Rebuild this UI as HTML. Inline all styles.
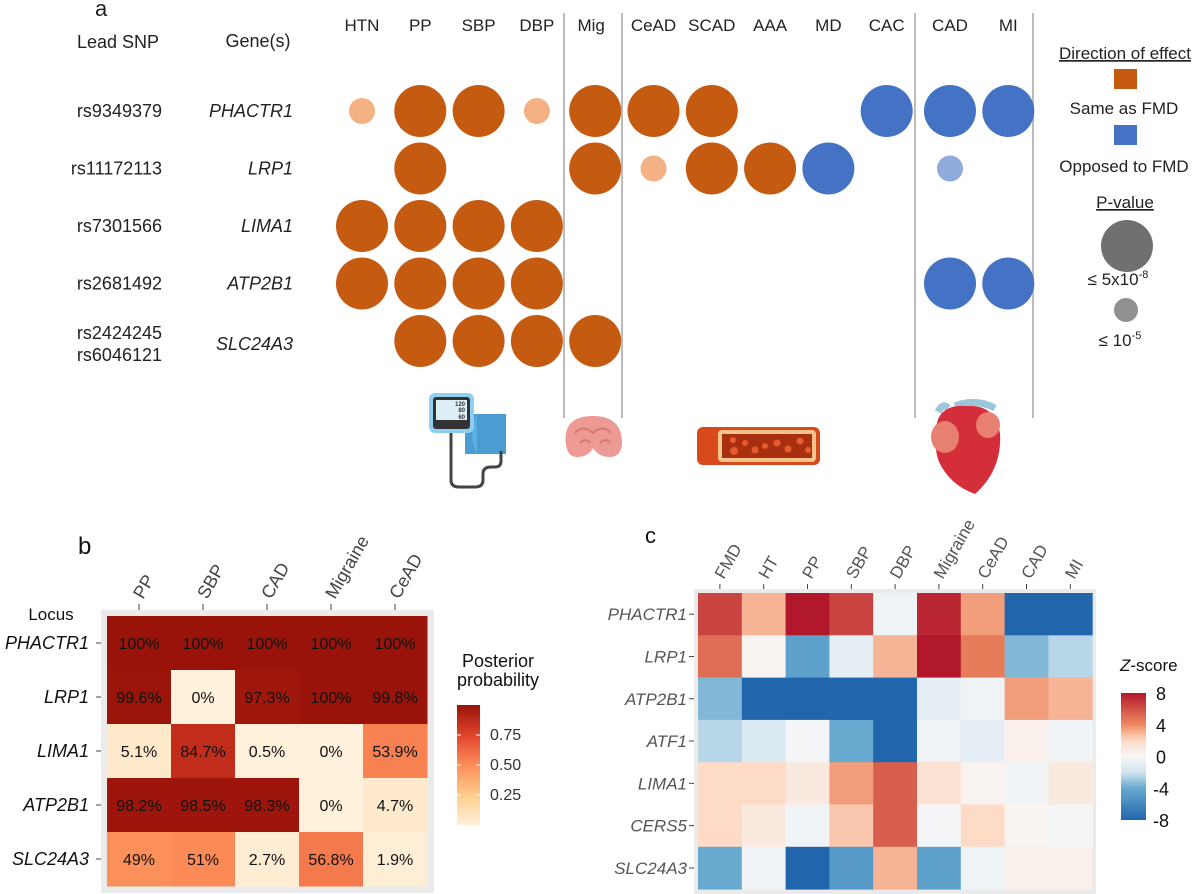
<!DOCTYPE html>
<html><head><meta charset="utf-8"><style>
html,body{margin:0;padding:0;background:#fff}
svg{display:block;font-family:"Liberation Sans",Arial,sans-serif}
</style></head><body>
<svg id="s" width="1200" height="894" viewBox="0 0 1200 894" xmlns="http://www.w3.org/2000/svg">
<g id="pa">
<text x="95" y="16" font-size="22" fill="#222">a</text>
<text x="118" y="48" font-size="18" text-anchor="middle" fill="#222">Lead SNP</text>
<text x="258" y="47" font-size="18" text-anchor="middle" fill="#222">Gene(s)</text>
<g stroke="#bbb" stroke-width="2">
<line x1="564" y1="13" x2="564" y2="418"/><line x1="622" y1="13" x2="622" y2="418"/>
<line x1="915" y1="13" x2="915" y2="418"/><line x1="1033" y1="13" x2="1033" y2="418"/>
</g>
<g id="legend-a" fill="#222" font-size="17" text-anchor="middle">
<text x="1125" y="59" text-decoration="underline">Direction of effect</text>
<rect x="1114" y="69" width="23" height="20" fill="#C55A11"/>
<text x="1124" y="114">Same as FMD</text>
<rect x="1114" y="125" width="23" height="20" fill="#4472C4"/>
<text x="1124" y="172">Opposed to FMD</text>
<text x="1125" y="208" text-decoration="underline">P-value</text>
<circle cx="1127" cy="246" r="26" fill="#707070"/>
<text x="1118" y="285">≤ 5x10<tspan font-size="11" dy="-7">-8</tspan></text>
<circle cx="1126" cy="310" r="12" fill="#909090"/>
<text x="1120" y="346">≤ 10<tspan font-size="11" dy="-7">-5</tspan></text>
</g>
<g>
<rect x="465" y="414" width="41" height="40" fill="#4A9CD1"/><path d="M477 414 q-10 20 0 40" fill="#5BB0E3"/>
<path d="M451 430 v50 q0 7 8 7 h16 q8 0 8-7 v-6 q0-7 8-7 h4 q6 0 6-6 v-10" fill="none" stroke="#444" stroke-width="3"/>
<rect x="429" y="393" width="45" height="40" rx="6" fill="#8ECFEF"/><rect x="433" y="397" width="37" height="32" rx="3" fill="#333"/>
<rect x="436" y="400" width="31" height="20" fill="#DDEEF5"/>
<text x="465" y="406" font-size="6" text-anchor="end" font-weight="bold" fill="#333">120</text>
<text x="465" y="412" font-size="6" text-anchor="end" font-weight="bold" fill="#333">80</text>
<text x="465" y="419" font-size="6" text-anchor="end" font-weight="bold" fill="#333">60</text>
</g>
<g>
<path d="M566 445 q-4-29 27-29 q30 0 29 29 q-2 13-14 12 q-10-1-15-9 q-4 8-14 9 q-11 1-13-12z" fill="#EE9A94"/>
<path d="M575 433 q8-9 18 0 q10-9 18 0 M580 443 q6-6 10 0 M600 443 q6-6 10 0" fill="none" stroke="#D97570" stroke-width="2"/>
</g>
<g>
<rect x="697" y="427" width="123" height="38" rx="6" fill="#D84A1B"/>
<rect x="718" y="430" width="98" height="32" rx="4" fill="#F6C48B"/>
<rect x="722" y="434" width="90" height="24" fill="#A8300E"/>
<g fill="#E85A30"><circle cx="733" cy="440" r="3"/><circle cx="745" cy="443" r="3"/><circle cx="734" cy="451" r="4"/><circle cx="755" cy="450" r="3.5"/><circle cx="765" cy="446" r="3"/><circle cx="777" cy="443" r="3.5"/><circle cx="788" cy="449" r="3.5"/><circle cx="800" cy="441" r="3.5"/><circle cx="808" cy="450" r="3"/></g>
</g>
<g>
<path d="M938 412 q5-10 10-4 M955 406 q20-8 40 2" fill="none" stroke="#9CC7DB" stroke-width="7"/>
<path d="M936 432 q0-28 30-26 q30-2 34 28 q2 36-25 60 q-25-9-36-32 q-5-14-3-30z" fill="#D42E3A"/>
<ellipse cx="945" cy="437" rx="14" ry="16" fill="#E78070"/><ellipse cx="988" cy="425" rx="12" ry="13" fill="#E78070"/>
</g>
</g>

<g>
<text x="78" y="554" font-size="24" fill="#111">b</text>
<rect x="101" y="610" width="333" height="283" fill="#ebebeb"/>
<text x="51" y="620" font-size="17" text-anchor="middle" fill="#111">Locus</text>
<g id="hb"></g>
<text x="498" y="667" font-size="18" text-anchor="middle" fill="#111">Posterior</text>
<text x="498" y="686" font-size="18" text-anchor="middle" fill="#111">probability</text>
<defs><linearGradient id="gb" x1="0" y1="1" x2="0" y2="0">
<stop offset="0" stop-color="#FFF1DC"/><stop offset="0.25" stop-color="#FDCC8A"/><stop offset="0.5" stop-color="#FC8D59"/><stop offset="0.75" stop-color="#E0432B"/><stop offset="1" stop-color="#99130A"/></linearGradient>
<linearGradient id="gc" x1="0" y1="1" x2="0" y2="0">
<stop offset="0" stop-color="#2166AC"/><stop offset="0.25" stop-color="#67A9CF"/><stop offset="0.375" stop-color="#D1E5F0"/><stop offset="0.5" stop-color="#F7F7F7"/><stop offset="0.625" stop-color="#FDDBC7"/><stop offset="0.75" stop-color="#EF8A62"/><stop offset="1" stop-color="#B2182B"/></linearGradient></defs>
<rect x="457" y="705" width="23" height="120" fill="url(#gb)"/>
<g id="lb" font-size="15" fill="#333"></g>
</g>

<g>
<text x="645" y="543" font-size="22" fill="#111">c</text>
<rect x="694" y="589" width="402" height="305" fill="#ebebeb"/>
<g id="hc"></g>
<text x="1120" y="671" font-size="17" fill="#111"><tspan font-style="italic">Z</tspan>-score</text>
<rect x="1121" y="693" width="25" height="127" fill="url(#gc)"/>
<g id="lc" font-size="18" fill="#111"></g>
</g>
</svg>
<script>
// ---- Panel a data ----
const aTraits = ["HTN","PP","SBP","DBP","Mig","CeAD","SCAD","AAA","MD","CAC","CAD","MI"];
const aSnps = [["rs9349379"],["rs11172113"],["rs7301566"],["rs2681492"],["rs2424245","rs6046121"]];
const aGenes = ["PHACTR1","LRP1","LIMA1","ATP2B1","SLC24A3"];
// direction: 1 same, -1 opposed, 0 none ; size: 2 big (<=5e-8), 1 small (<=1e-5)
const aDir = [
 [1,1,1,1,1,1,1,0,0,-1,-1,-1],
 [0,1,0,0,1,1,1,1,-1,0,-1,0],
 [1,1,1,1,0,0,0,0,0,0,0,0],
 [1,1,1,1,0,0,0,0,0,0,-1,-1],
 [0,1,1,1,1,0,0,0,0,0,0,0]];
const aSize = [
 [1,2,2,1,2,2,2,0,0,2,2,2],
 [0,2,0,0,2,1,2,2,2,0,1,0],
 [2,2,2,2,0,0,0,0,0,0,0,0],
 [2,2,2,2,0,0,0,0,0,0,2,2],
 [0,2,2,2,2,0,0,0,0,0,0,0]];
// ---- Panel b data ----
const bCols = ["PP","SBP","CAD","Migraine","CeAD"];
const bRows = ["PHACTR1","LRP1","LIMA1","ATP2B1","SLC24A3"];
const bVals = [
 [100,100,100,100,100],
 [99.6,0,97.3,100,99.8],
 [5.1,84.7,0.5,0,53.9],
 [98.2,98.5,98.3,0,4.7],
 [49,51,2.7,56.8,1.9]];
const bTicks = [0.25,0.5,0.75];
// ---- Panel c data ----
const cCols = ["FMD","HT","PP","SBP","DBP","Migraine","CeAD","CAD","MI"];
const cRows = ["PHACTR1","LRP1","ATP2B1","ATF1","LIMA1","CERS5","SLC24A3"];
const cVals = [
 [6.5,3,8,6.5,-0.5,7.5,3.5,-8,-8],
 [5,0.3,-4.5,-1,3,8,4.5,-3.5,-2.5],
 [-3.5,-8,-8,-8,-8,-1,-0.5,3.5,3],
 [-2.5,-1.5,-0.2,-4,-8,-0.3,-1,0.5,-0.3],
 [2,2,1,3.5,5.5,1.5,0.3,-0.3,1],
 [2,1,-0.3,2.5,5.5,-0.2,2,0.3,-0.2],
 [-4,-0.3,-8,-5,3,-4.5,-0.5,0.5,0.5]];
const cTicks = [8,4,0,-4,-8];

const NS="http://www.w3.org/2000/svg";
function mk(tag,attrs,parent,txt){const e=document.createElementNS(NS,tag);for(const k in attrs)e.setAttribute(k,attrs[k]);if(txt!==undefined)e.textContent=txt;parent.appendChild(e);return e;}
function hex(h){return [parseInt(h.slice(1,3),16),parseInt(h.slice(3,5),16),parseInt(h.slice(5,7),16)];}
function ramp(stops,t){t=Math.max(0,Math.min(1,t));for(let i=1;i<stops.length;i++){if(t<=stops[i][0]){const a=stops[i-1],b=stops[i];const f=(t-a[0])/(b[0]-a[0]);const ca=hex(a[1]),cb=hex(b[1]);return "rgb("+ca.map((v,j)=>Math.round(v+(cb[j]-v)*f)).join(",")+")";}}return stops[stops.length-1][1];}
const pa=document.getElementById('pa');

const aX=i=>362+i*58.3+(i>=10?5:0);
const aY=j=>111+j*57.5;
aTraits.forEach((t,i)=>{
 const e=mk('text',{x:aX(i)+(i==4?-4:0),y:31,'font-size':17,'text-anchor':'middle',fill:'#222'},pa,t);
 
 
});
aGenes.forEach((g,j)=>{
 const snps=aSnps[j];
 snps.forEach((s,k)=>{
  const y=aY(j)+6+(snps.length>1?(k*22-8):0);
  const e=mk('text',{x:162,y:y,'font-size':18,'text-anchor':'end',fill:'#222'},pa,s);
  
  
 });
 const ge=mk('text',{x:293,y:aY(j)+6+(snps.length>1?3:0),'font-size':18,'text-anchor':'end','font-style':'italic',fill:'#222'},pa,g);
 
 
 aTraits.forEach((t,i)=>{
  const d=aDir[j][i],sz=aSize[j][i];
  if(!d||!sz)return;
  const col=d>0?(sz==2?'#C55A11':'#F4B183'):(sz==2?'#4472C4':'#8FAADC');
  const c=mk('circle',{cx:aX(i),cy:aY(j),r:sz==2?26:13,fill:col},pa);
  
  
 });
});

const hb=document.getElementById('hb');
const bStops=[[0,'#FFF1DC'],[0.25,'#FDCC8A'],[0.5,'#FC8D59'],[0.75,'#E0432B'],[0.9,'#B22010'],[1,'#99130A']];
const bx0=107,bw=64,by0=616,bh=54;
const bX=i=>bx0+i*bw, bY=j=>by0+j*bh;
bCols.forEach((c,i)=>{
 const cx=bX(i)+bw/2;
 mk('line',{x1:cx,y1:604,x2:cx,y2:610,stroke:'#444','stroke-width':1},hb);
 const t=mk('text',{x:cx+4,y:600,'font-size':18,fill:'#444',transform:`rotate(-60 ${cx+4} 600)`},hb,c);
 
 
});
bRows.forEach((r,j)=>{
 const cy=bY(j)+bh/2;
 const t=mk('text',{x:89,y:cy+6,'font-size':18,'text-anchor':'end','font-style':'italic',fill:'#111'},hb,r);
 
 
 mk('line',{x1:96,y1:cy,x2:101,y2:cy,stroke:'#444'},hb);
 bCols.forEach((c,i)=>{
  const v=bVals[j][i];
  const rc=mk('rect',{x:bX(i),y:bY(j),width:bw+0.5,height:bh+0.5,fill:ramp(bStops,v/100)},hb);
  
  
  const tx=mk('text',{x:bX(i)+bw/2,y:bY(j)+bh/2+6,'font-size':16,'text-anchor':'middle',fill:'#111'},hb,v+'%');
  
  
 });
});
const lb=document.getElementById('lb');
bTicks.forEach(v=>{
 const y=825-v*120;
 mk('line',{x1:457,y1:y,x2:461,y2:y,stroke:'#fff'},lb);mk('line',{x1:476,y1:y,x2:480,y2:y,stroke:'#fff'},lb);
 const t=mk('text',{x:490,y:y+5,'font-size':16},lb,v.toFixed(2));
 
 
});

const hc=document.getElementById('hc');
const cStops=[[0,'#2166AC'],[0.25,'#67A9CF'],[0.375,'#D1E5F0'],[0.5,'#F7F7F7'],[0.625,'#FDDBC7'],[0.75,'#EF8A62'],[1,'#B2182B']];
const cx0=698,cw=43.8,cy0=593,ch=42.3;
const cX=i=>cx0+i*cw, cY=j=>cy0+j*ch;
cCols.forEach((c,i)=>{
 const cx=cX(i)+cw/2;
 mk('line',{x1:cx,y1:584,x2:cx,y2:589,stroke:'#444'},hc);
 const t=mk('text',{x:cx+4,y:580,'font-size':17,fill:'#555',transform:`rotate(-60 ${cx+4} 580)`},hc,c);
 
 
});
cRows.forEach((r,j)=>{
 const cy=cY(j)+ch/2;
 const t=mk('text',{x:687,y:cy+6,'font-size':17,'text-anchor':'end','font-style':'italic',fill:'#555'},hc,r);
 
 
 mk('line',{x1:689,y1:cy,x2:694,y2:cy,stroke:'#444'},hc);
 cCols.forEach((c,i)=>{
  const rc=mk('rect',{x:cX(i),y:cY(j),width:cw+0.5,height:ch+0.5,fill:ramp(cStops,(cVals[j][i]+8)/16)},hc);
  
  
 });
});
const lc=document.getElementById('lc');
cTicks.forEach(v=>{
 const y=756.5-v*(127/16);
 const t=mk('text',{x:v<0?1153:1156,y:y+7},lc,String(v));
 
 
});
</script>
</body></html>
